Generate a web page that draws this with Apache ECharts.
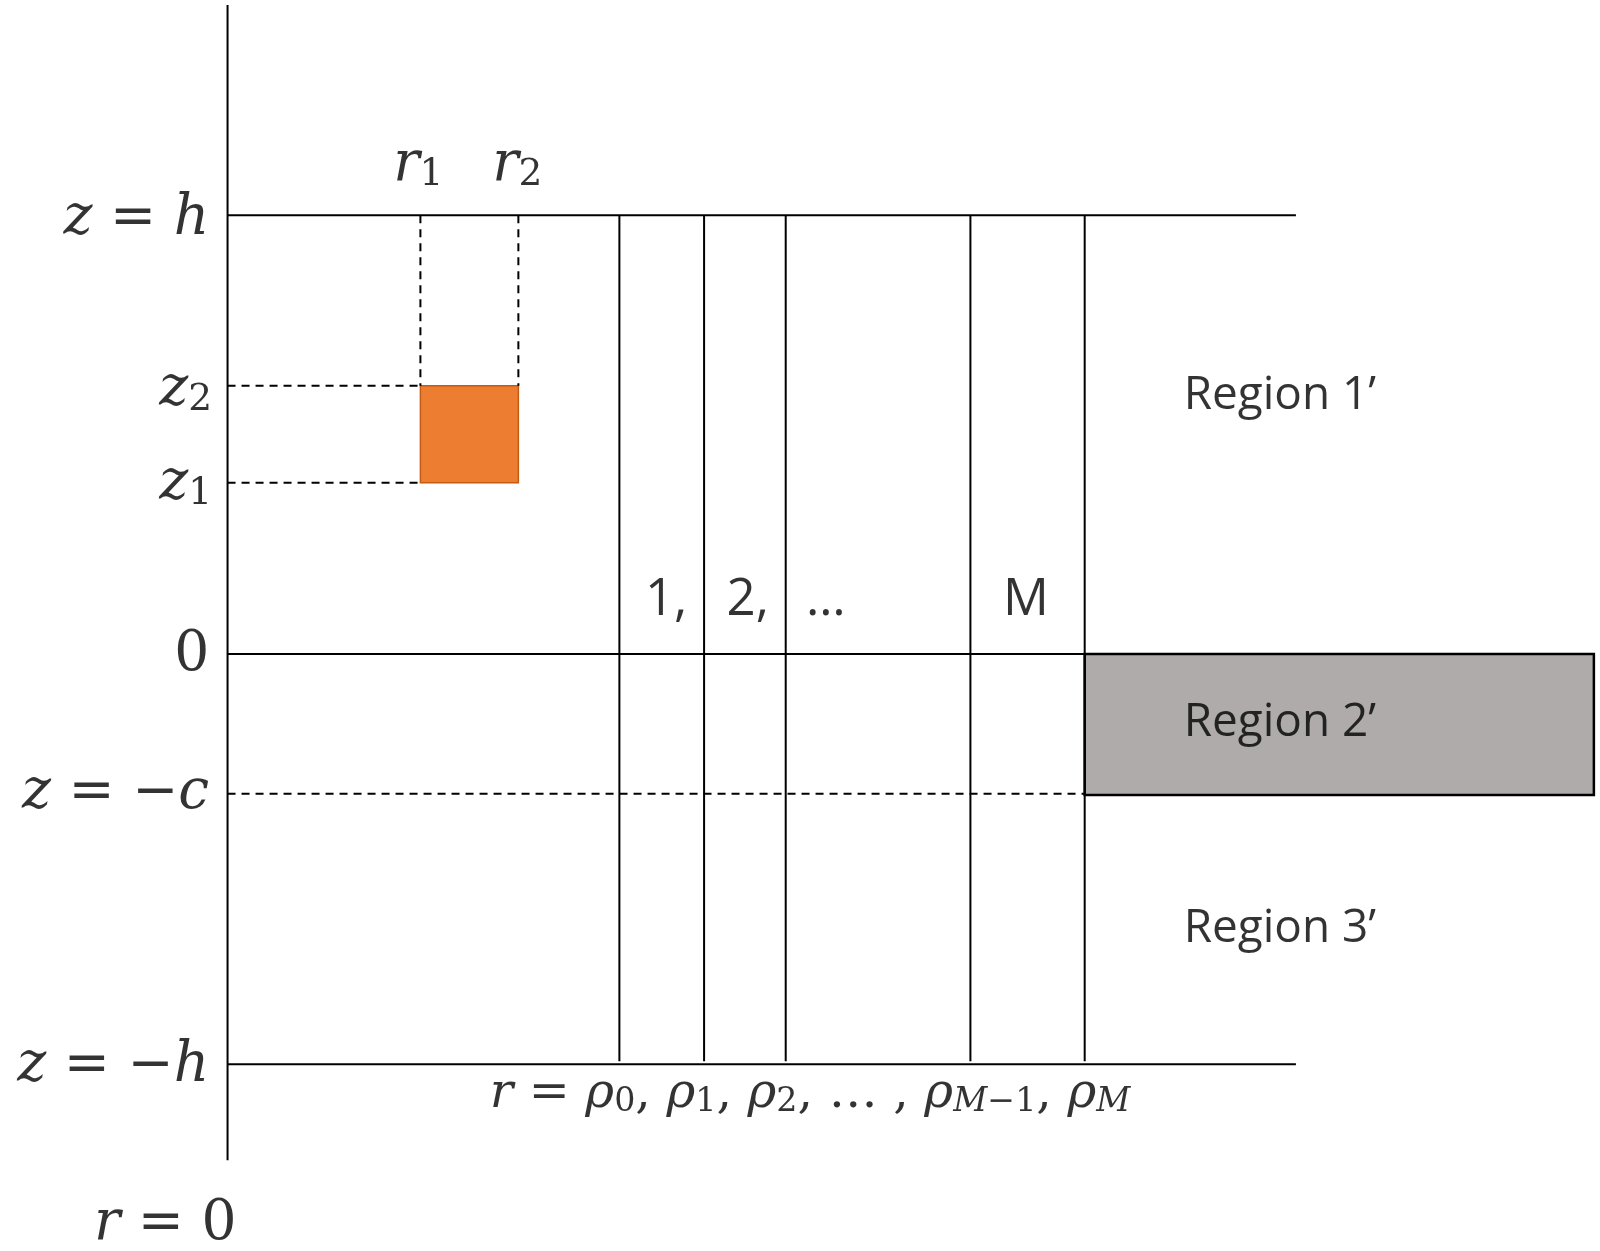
<!DOCTYPE html>
<html><head><meta charset="utf-8">
<script src="https://cdn.jsdelivr.net/npm/echarts@6/dist/echarts.min.js"></script>
<style>html,body{margin:0;background:#fff}#c{width:1600px;height:1251px}</style>
</head><body><div id="c"></div>
<script>
// diagram coordinates (r to the right, depth downward in drawing units)
const axisR = 223;
const zTop = 211, zZero = 641, zMinusC = 778, zBottom = 1043;
const rEnd = 1270;
const rhoLines = [607, 690, 770, 951, 1063];
const source = {r1: 412, r2: 508, z2: 378, z1: 473};
const region2 = {r0: 1063, r1: 1562, zTop: 641, zBot: 779};
const solidSegs = [
  [[axisR, 5], [axisR, 1137]],
  [[axisR, zTop], [rEnd, zTop]],
  [[axisR, zZero], [region2.r0, zZero]],
  [[axisR, zBottom], [rEnd, zBottom]]
].concat(rhoLines.map(x => [[x, zTop], [x, 1040]]));
const dashedSegs = [
  [[axisR, source.z2], [source.r1, source.z2]],
  [[axisR, source.z1], [source.r1, source.z1]],
  [[source.r1, zTop], [source.r1, source.z2]],
  [[source.r2, zTop], [source.r2, source.z2]],
  [[axisR, zMinusC], [region2.r0, zMinusC]]
];
const mathLabels = [
  {pos: [205, 215], text: '{i|z} = {i|h}', align: 'right'},
  {pos: [410, 162], text: '{i|r}{s|1}', align: 'center'},
  {pos: [507, 162], text: '{i|r}{s|2}', align: 'center'},
  {pos: [182, 383], text: '{i|z}{s|2}', align: 'center'},
  {pos: [182, 475], text: '{i|z}{s|1}', align: 'center'},
  {pos: [205, 643], text: '0', align: 'right'},
  {pos: [205, 778], text: '{i|z} = −{i|c}', align: 'right'},
  {pos: [205, 1045], text: '{i|z} = −{i|h}', align: 'right'},
  {pos: [162, 1200], text: '{i|r} = 0', align: 'center'},
  {pos: [480, 1072], text: '{i|r} = {i|ρ}{s|0}, {i|ρ}{s|1}, {i|ρ}{s|2}, … , {i|ρ}{si|M}{s|−1}, {i|ρ}{si|M}', align: 'left', small: true}
];
const sansLabels = [
  {pos: [632, 588], text: '1,', size: 50},
  {pos: [712, 588], text: '2,', size: 50},
  {pos: [790, 588], text: '…', size: 50},
  {pos: [983, 588], text: 'M', size: 50},
  {pos: [1160, 388], text: 'Region 1’', size: 45},
  {pos: [1160, 708], text: 'Region 2’', size: 45},
  {pos: [1160, 910], text: 'Region 3’', size: 45}
];
const K = 1600 / 1568;

const series = [];
solidSegs.forEach(s => series.push({type: 'line', data: s, symbol: 'none', silent: true,
  lineStyle: {color: '#000', width: 2}}));
dashedSegs.forEach(s => series.push({type: 'line', data: s, symbol: 'none', silent: true,
  lineStyle: {color: '#000', width: 2, type: [8, 6]}}));
series.push({type: 'custom', silent: true, data: [
    [source.r1, source.z2, source.r2, source.z1, '#ed7d31', '#c55a11', 1.5],
    [region2.r0, region2.zTop, region2.r1, region2.zBot, '#afabab', '#000', 2.5]],
  renderItem: (p, api) => {
    const a = api.coord([api.value(0), api.value(1)]), b = api.coord([api.value(2), api.value(3)]);
    return {type: 'rect', shape: {x: a[0], y: a[1], width: b[0] - a[0], height: b[1] - a[1]},
      style: {fill: api.value(4), stroke: api.value(5), lineWidth: api.value(6)}};
  }, z: 1});
mathLabels.forEach(m => {
  const fs = (m.small ? 48 : 54) * K;
  series.push({type: 'scatter', symbolSize: 0, silent: true, z: 5, data: [m.pos],
    label: {show: true, position: 'inside', formatter: m.text, align: m.align, verticalAlign: 'middle',
      fontFamily: 'DejaVu Serif', fontSize: fs, color: '#000',
      rich: {i: {fontFamily: 'DejaVu Serif', fontStyle: 'italic', fontSize: fs, color: '#000'},
             s: {fontFamily: 'DejaVu Serif', fontSize: fs * 0.68, color: '#000', verticalAlign: 'bottom', padding: [fs * 0.35, 0, 0, 0]},
             si: {fontFamily: 'DejaVu Serif', fontStyle: 'italic', fontSize: fs * 0.68, color: '#000', verticalAlign: 'bottom', padding: [fs * 0.35, 0, 0, 0]}}}});
});
sansLabels.forEach(m => series.push({type: 'scatter', symbolSize: 0, silent: true, z: 5, data: [m.pos],
  label: {show: true, position: 'inside', formatter: m.text, align: 'left', verticalAlign: 'middle',
    fontFamily: 'Open Sans', fontSize: m.size * K, color: '#000'}}));

const chart = echarts.init(document.getElementById('c'));
chart.setOption({
  animation: false,
  grid: {left: 0, right: 0, top: 0, bottom: 0},
  xAxis: {type: 'value', min: 0, max: 1568, show: false},
  yAxis: {type: 'value', min: 0, max: 1226, inverse: true, show: false},
  series
});
</script></body></html>
